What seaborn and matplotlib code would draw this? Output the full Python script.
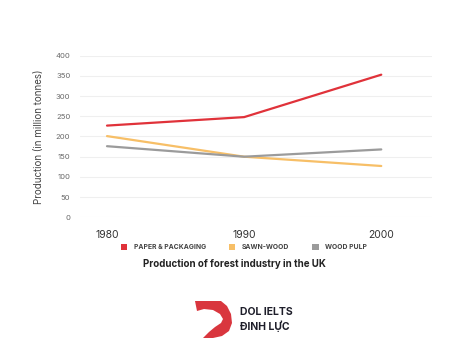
import matplotlib
matplotlib.use("Agg")
import matplotlib.pyplot as plt
import seaborn as sns
import pandas as pd
from matplotlib.patches import Polygon, Patch

years = [1980, 1990, 2000]
paper_packaging = [227, 248, 353]
sawn_wood = [201, 150, 127]
wood_pulp = [176, 150, 168]
series_names = ["PAPER & PACKAGING", "SAWN-WOOD", "WOOD PULP"]
y_ticks = [0, 50, 100, 150, 200, 250, 300, 350, 400]

colors = ["#E0323A", "#F7BF67", "#9B9B9B"]

df = pd.DataFrame({
    "Year": years * 3,
    "Production": paper_packaging + sawn_wood + wood_pulp,
    "Series": [series_names[0]] * 3 + [series_names[1]] * 3 + [series_names[2]] * 3,
})

sns.set_theme(style="white")
plt.rcParams['font.family'] = ['Inter', 'DejaVu Sans']

fig = plt.figure(figsize=(4.74, 3.55), dpi=100)
ax = fig.add_axes([80 / 474, 1 - 217.3 / 355, 352 / 474, (217.3 - 55.7) / 355])

sns.lineplot(data=df, x="Year", y="Production", hue="Series", palette=colors,
             linewidth=1.6, ax=ax, legend=False, clip_on=False)

ax.set_xlim(1978.03, 2003.7)
ax.set_ylim(0, 400)
ax.set_yticks(y_ticks)
ax.set_xticks(years)
ax.set_xticklabels([str(y) for y in years])
for y in y_ticks:
    ax.axhline(y, color="#EFEFEF", linewidth=0.8, zorder=0)
for s in ax.spines.values():
    s.set_visible(False)
ax.tick_params(axis="y", length=0, pad=7, labelsize=5.5, labelcolor="#6A6A6A")
ax.tick_params(axis="x", length=0, pad=9, labelsize=7.5, labelcolor="#333333")
ax.set_xlabel("")
ax.set_ylabel("Production (in million tonnes)", fontsize=7, color="#444444", labelpad=8)

# legend
handles = [Patch(facecolor=c, edgecolor="none") for c in colors]
leg = fig.legend(handles, series_names, loc="center", bbox_to_anchor=(244 / 474, 1 - 247 / 355),
                 ncol=3, frameon=False, fontsize=4.9, handlelength=0.9, handleheight=0.9,
                 columnspacing=3.4, handletextpad=1.0, borderaxespad=0)
for t in leg.get_texts():
    t.set_color("#444444")
    t.set_fontweight("bold")

fig.text(234 / 474, 1 - 264 / 355, "Production of forest industry in the UK",
         ha="center", va="center", fontsize=7, fontweight="bold", color="#222222")

# logo
lax = fig.add_axes([195 / 474, 1 - 339 / 355, 38 / 474, 38 / 355])
lax.set_xlim(0, 38)
lax.set_ylim(0, 38)
lax.axis("off")
shape_pts = [(0, 0), (26, 0), (32, 5), (36, 13), (37, 22), (34, 30), (27, 35), (18, 37), (8, 37),
             (14, 31), (20, 26), (26, 22), (28, 18), (25, 13), (18, 9), (9, 8), (2, 10)]
lax.add_patch(Polygon([(x, 38 - y) for x, y in shape_pts], closed=True,
                      facecolor="#D9363E", edgecolor="none"))
fig.text(240 / 474, 1 - 312 / 355, "DOL IELTS", ha="left", va="center",
         fontsize=7.5, fontweight="bold", color="#1E1E2A")
fig.text(240 / 474, 1 - 326 / 355, "ĐINH LỰC", ha="left", va="center",
         fontsize=7.5, fontweight="bold", color="#1E1E2A")

fig.savefig("out.png", dpi=100, facecolor="white")
